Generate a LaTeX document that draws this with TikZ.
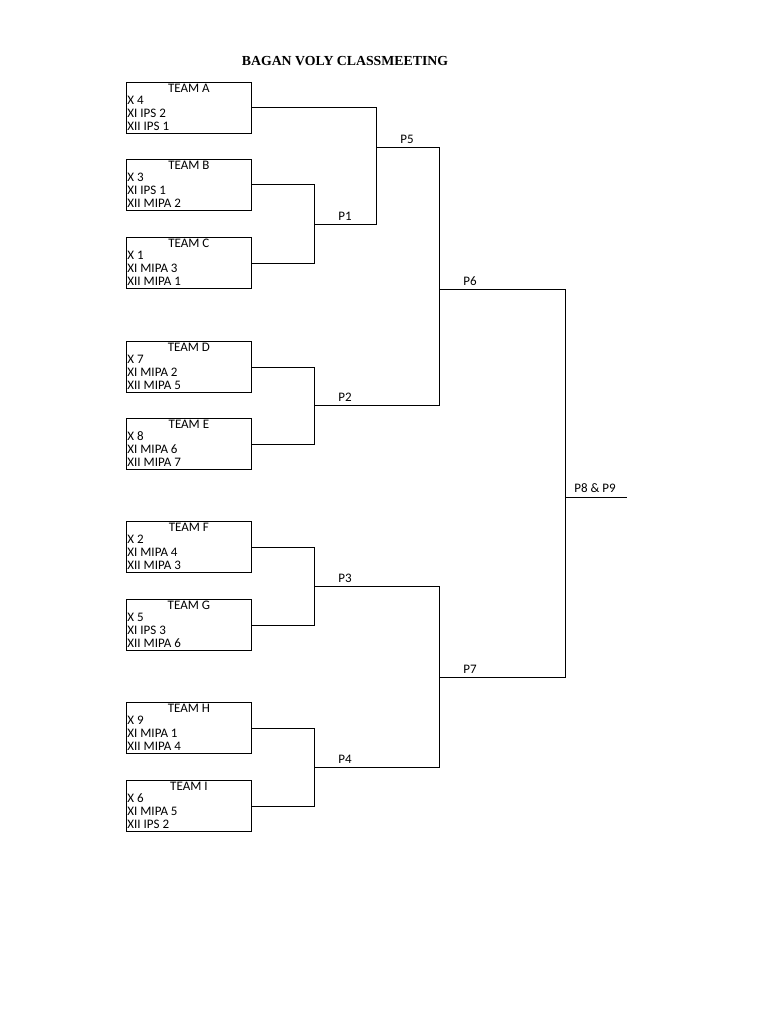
\documentclass[tikz,border=0pt]{standalone}
\usepackage{fontspec}
\setmainfont{Carlito}
\newfontfamily\titlefont{Liberation Serif}
\usetikzlibrary{calc}
\begin{document}
\begin{tikzpicture}[x=1pt,y=-1pt,
  teambox/.style={draw, line width=0.8pt, minimum width=125pt, minimum height=51pt, inner sep=0pt, anchor=north west},
  lbl/.style={inner sep=0pt, font=\fontsize{13}{15}\selectfont},
  line/.style={line width=0.8pt}]
\useasboundingbox (0,0) rectangle (768,1024);
\fill[white] (0,0) rectangle (768,1024);
\node[font=\titlefont\bfseries\fontsize{13.8}{16}\selectfont, inner sep=0pt] (title) at (345,61) {BAGAN VOLY CLASSMEETING};

\newcommand{\teamnode}[6]{%
  \node[teambox] (#1) at (126,#2) {};
  \node[lbl] (#1t) at ($(#1.north)+(0,6.3)$) {#3};
  \node[lbl, anchor=west] (#1a) at ($(#1.north west)+(1.2,18.5)$) {#4};
  \node[lbl, anchor=west] (#1b) at ($(#1.north west)+(1.2,31.5)$) {#5};
  \node[lbl, anchor=west] (#1c) at ($(#1.north west)+(1.2,44.5)$) {#6};
}
\teamnode{tA}{82}{TEAM A}{X 4}{XI IPS 2}{XII IPS 1}
\teamnode{tB}{159}{TEAM B}{X 3}{XI IPS 1}{XII MIPA 2}
\teamnode{tC}{237}{TEAM C}{X 1}{XI MIPA 3}{XII MIPA 1}
\teamnode{tD}{341}{TEAM D}{X 7}{XI MIPA 2}{XII MIPA 5}
\teamnode{tE}{418}{TEAM E}{X 8}{XI MIPA 6}{XII MIPA 7}
\teamnode{tF}{521}{TEAM F}{X 2}{XI MIPA 4}{XII MIPA 3}
\teamnode{tG}{599}{TEAM G}{X 5}{XI IPS 3}{XII MIPA 6}
\teamnode{tH}{702}{TEAM H}{X 9}{XI MIPA 1}{XII MIPA 4}
\teamnode{tI}{780}{TEAM I}{X 6}{XI MIPA 5}{XII IPS 2}

\coordinate (p1) at (314,224);
\coordinate (p2) at (314,405);
\coordinate (p3) at (314,586);
\coordinate (p4) at (314,767);
\coordinate (p5) at (376,147);
\coordinate (p6) at (439,289);
\coordinate (p7) at (439,677);
\coordinate (p89) at (565,497);
\coordinate (fin) at (627,497);

\draw[line] (tB.east) -| (p1);
\draw[line] (tC.east) -| (p1);
\draw[line] (tD.east) -| (p2);
\draw[line] (tE.east) -| (p2);
\draw[line] (tF.east) -| (p3);
\draw[line] (tG.east) -| (p3);
\draw[line] (tH.east) -| (p4);
\draw[line] (tI.east) -| (p4);
\draw[line] (tA.east) -| (p5);
\draw[line] (p1) -| (p5);
\draw[line] (p5) -| (p6);
\draw[line] (p2) -| (p6);
\draw[line] (p3) -| (p7);
\draw[line] (p4) -| (p7);
\draw[line] (p6) -| (p89);
\draw[line] (p7) -| (p89);
\draw[line] (p89) -- (fin);

\node[lbl] (l1) at (345,216) {P1};
\node[lbl] (l2) at (345,397) {P2};
\node[lbl] (l3) at (345,578) {P3};
\node[lbl] (l4) at (345,759) {P4};
\node[lbl] (l5) at (407,139) {P5};
\node[lbl] (l6) at (470,281) {P6};
\node[lbl] (l7) at (470,669) {P7};
\node[lbl] (l89) at (595,488) {P8 \& P9};
\end{tikzpicture}
\end{document}
